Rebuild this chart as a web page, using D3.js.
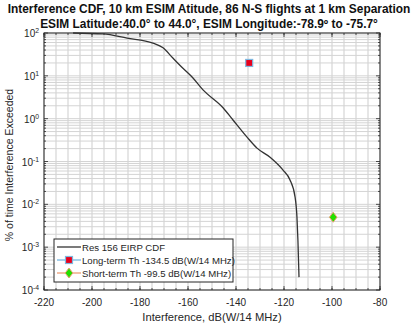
<!DOCTYPE html>
<html><head><meta charset="utf-8">
<script src="https://cdn.jsdelivr.net/npm/d3@7"></script>
<style>body{margin:0;background:#fff;} svg{display:block;font-family:Arial,"Liberation Sans",sans-serif;}</style>
</head><body>
<svg id="c" width="419" height="331"></svg>
<script>
const titleLines = ["Interference CDF, 10 km ESIM Atitude, 86 N-S flights at 1 km Separation",
  "ESIM Latitude:40.0\u00b0 to 44.0\u00b0, ESIM Longitude:-78.9\u00ba to -75.7\u00b0"];
const xLabel = "Interference, dB(W/14 MHz)";
const yLabel = "% of time Interference Exceeded";
const xTicks = [-220, -200, -180, -160, -140, -120, -100, -80];
const yExponents = [2, 1, 0, -1, -2, -3, -4];
const cdfX = [-207.9, -195.4, -185.4, -174.6, -170.4, -166.3, -162.1, -158.3, -153.75, -145.4, -141.25, -135.4, -131.25, -125.8, -120.4, -117.5, -115.4, -114.6, -114.2, -113.75];
const cdfY = [100, 95, 76, 58, 45, 26, 15, 9.4, 4.7, 1.8, 0.93, 0.37, 0.205, 0.126, 0.063, 0.037, 0.015, 0.005, 0.00145, 0.0002];
const longTerm = {x: -134.5, y: 20};
const shortTerm = {x: -99.5, y: 0.005};
const legendLabels = ["Res 156 EIRP CDF", "Long-term Th -134.5 dB(W/14 MHz)", "Short-term Th -99.5 dB(W/14 MHz)"];

const svg = d3.select("#c");
const L = 44, R = 380, T = 33, B = 290;
const x = d3.scaleLinear().domain([-220, -80]).range([L, R]);
const y = d3.scaleLog().domain([1e-4, 1e2]).range([B, T]);
const axC = "#262626";

// grid
const g = svg.append("g");
const minorX = d3.range(-220, -79, 5);
g.selectAll("line.vx").data(minorX).join("line")
  .attr("x1", d => x(d)).attr("x2", d => x(d)).attr("y1", T).attr("y2", B)
  .attr("stroke", "#cdcdcd").attr("stroke-width", 1);
const minorY = [];
for (let e = -4; e < 2; e++) for (let m = 1; m <= 9; m++) minorY.push(m * Math.pow(10, e));
minorY.push(100);
g.selectAll("line.hy").data(minorY).join("line")
  .attr("x1", L).attr("x2", R).attr("y1", d => y(d)).attr("y2", d => y(d))
  .attr("stroke", "#d4d4d4").attr("stroke-width", 1);

// ticks
const tk = svg.append("g").attr("stroke", axC).attr("stroke-width", 0.8);
xTicks.forEach(v => {
  tk.append("line").attr("x1", x(v)).attr("x2", x(v)).attr("y1", B).attr("y2", B - 4);
  tk.append("line").attr("x1", x(v)).attr("x2", x(v)).attr("y1", T).attr("y2", T + 4);
});
minorX.forEach(v => {
  tk.append("line").attr("x1", x(v)).attr("x2", x(v)).attr("y1", B).attr("y2", B - 2);
  tk.append("line").attr("x1", x(v)).attr("x2", x(v)).attr("y1", T).attr("y2", T + 2);
});
minorY.forEach(v => {
  const len = Math.abs(Math.log10(v) - Math.round(Math.log10(v))) < 1e-9 ? 4 : 2;
  tk.append("line").attr("x1", L).attr("x2", L + len).attr("y1", y(v)).attr("y2", y(v));
  tk.append("line").attr("x1", R).attr("x2", R - len).attr("y1", y(v)).attr("y2", y(v));
});

// box
svg.append("rect").attr("x", L).attr("y", T).attr("width", R - L).attr("height", B - T)
  .attr("fill", "none").attr("stroke", axC).attr("stroke-width", 1);

// tick labels
svg.append("g").selectAll("text").data(xTicks).join("text")
  .attr("x", d => x(d)).attr("y", B + 16).attr("text-anchor", "middle")
  .attr("font-size", 10).attr("fill", axC).text(d => d);
const yl = svg.append("g").selectAll("text").data(yExponents).join("text")
  .attr("x", 39).attr("y", d => y(Math.pow(10, d)) + 4).attr("text-anchor", "end")
  .attr("font-size", 10).attr("fill", axC);
yl.append("tspan").text("10");
yl.append("tspan").attr("dy", -4).attr("font-size", 6.8).text(d => d);

// axis labels
svg.append("text").attr("x", 212).attr("y", 321).attr("text-anchor", "middle")
  .attr("font-size", 11.2).attr("fill", axC).text(xLabel);
svg.append("text").attr("transform", "translate(13,165) rotate(-90)").attr("text-anchor", "middle")
  .attr("font-size", 10.5).attr("fill", axC).text(yLabel);

// title
svg.selectAll("text.title").data(titleLines).join("text")
  .attr("x", 209).attr("y", (d, i) => 13 + i * 15).attr("text-anchor", "middle")
  .attr("font-size", 11.9).attr("font-weight", "bold").attr("fill", "#111").text(d => d);

// curve
const pts = cdfX.map((v, i) => [v, cdfY[i]]);
svg.append("path").datum(pts)
  .attr("d", d3.line().x(d => x(d[0])).y(d => y(d[1])).curve(d3.curveMonotoneX))
  .attr("fill", "none").attr("stroke", "#333").attr("stroke-width", 1.3);

// markers
function square(gr, cx, cy) {
  gr.append("rect").attr("x", cx - 3.5).attr("y", cy - 3.5).attr("width", 7).attr("height", 7)
    .attr("fill", "#e8001c").attr("stroke", "#7fb8e0").attr("stroke-width", 1.2);
}
function diamond(gr, cx, cy) {
  gr.append("path").attr("d", `M${cx},${cy - 5}L${cx + 3.8},${cy}L${cx},${cy + 5}L${cx - 3.8},${cy}Z`)
    .attr("fill", "#22e000").attr("stroke", "#e8a070").attr("stroke-width", 1);
}
square(svg, x(longTerm.x), y(longTerm.y));
diamond(svg, x(shortTerm.x), y(shortTerm.y));

// legend
const lg = svg.append("g");
lg.append("rect").attr("x", 54).attr("y", 239).attr("width", 179).attr("height", 43)
  .attr("fill", "#fff").attr("stroke", axC).attr("stroke-width", 1);
const rowY = [247, 260, 273];
const lineCols = ["#333", "#8ec4e8", "#f0b090"];
rowY.forEach((ry, i) => {
  lg.append("line").attr("x1", 57).attr("x2", 81).attr("y1", ry).attr("y2", ry)
    .attr("stroke", lineCols[i]).attr("stroke-width", i === 0 ? 1.3 : 1.6);
  lg.append("text").attr("x", 82).attr("y", ry + 3.5).attr("font-size", 9.6).attr("fill", axC).text(legendLabels[i]);
});
square(lg, 69, rowY[1]);
diamond(lg, 69, rowY[2]);
</script>
</body></html>
